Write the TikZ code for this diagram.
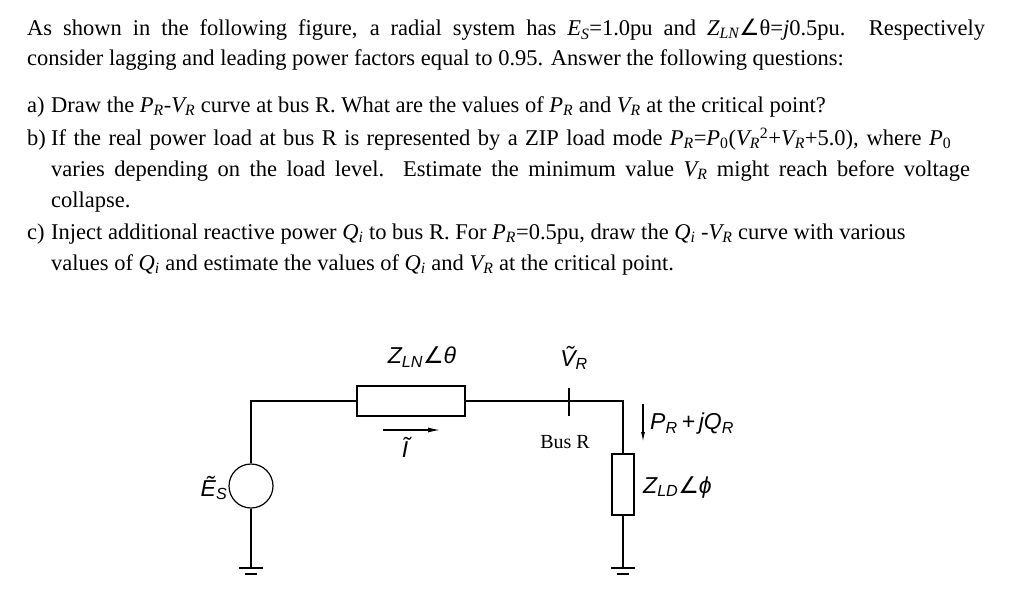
\documentclass[tikz,border=0pt]{standalone}
\usepackage{fontspec}
\setmainfont{Liberation Serif}
\newfontfamily\lsans{Liberation Sans}
\newfontfamily\djv{DejaVu Sans}
\newcommand{\angsym}{{\djv\upshape ∠}}
\usetikzlibrary{arrows.meta}
\begin{document}
\begin{tikzpicture}[x=1pt,y=-1pt,
  txt/.style={anchor=west,inner sep=0pt,font=\fontsize{22.5}{26}\selectfont},
  lab/.style={inner sep=0pt,font=\lsans\itshape\fontsize{23}{26}\selectfont},
  wire/.style={line width=1.2pt},
  box/.style={draw,line width=1.2pt,minimum width=108pt,minimum height=30pt,inner sep=0pt}]
\useasboundingbox (0,0) rectangle (1024,610);
\node[txt] (t1) at (27,30) {\makebox[958pt][s]{As shown in the following figure, a radial system has \textit{E\textsubscript{S}}=1.0pu and \textit{Z\textsubscript{LN}}\angsym θ=\textit{j}0.5pu. Respectively}};
\node[txt] (t2) at (27,60) {consider lagging and leading power factors equal to 0.95. Answer the following questions:};
\node[txt] (a) at (27,107) {\makebox[24pt][l]{a)}Draw the \textit{P\textsubscript{R}}-\textit{V\textsubscript{R}} curve at bus R. What are the values of \textit{P\textsubscript{R}} and \textit{V\textsubscript{R}} at the critical point?};
\node[txt] (b) at (27,139) {\makebox[24pt][l]{b)}\makebox[900pt][s]{If the real power load at bus R is represented by a ZIP load mode \textit{P\textsubscript{R}}=\textit{P}\textsubscript{0}(\textit{V\textsubscript{R}}\textsuperscript{2}+\textit{V\textsubscript{R}}+5.0), where \textit{P}\textsubscript{0}}};
\node[txt] (b2) at (51,171) {\makebox[919pt][s]{varies depending on the load level. Estimate the minimum value \textit{V\textsubscript{R}} might reach before voltage}};
\node[txt] (b3) at (51,202) {collapse.};
\node[txt] (c) at (27,234) {\makebox[24pt][l]{c)}Inject additional reactive power \textit{Q\textsubscript{i}} to bus R. For \textit{P\textsubscript{R}}=0.5pu, draw the \textit{Q\textsubscript{i}} -\textit{V\textsubscript{R}} curve with various};
\node[txt] (c2) at (51,265) {values of \textit{Q\textsubscript{i}} and estimate the values of \textit{Q\textsubscript{i}} and \textit{V\textsubscript{R}} at the critical point.};
% circuit
\node[draw,circle,line width=1.2pt,minimum size=44pt,inner sep=0pt] (src) at (251,486) {};
\node[box] (zln) at (411,401) {};
\node[box,minimum width=22pt,minimum height=61pt] (zld) at (623,484.5) {};
\coordinate (tl) at (251,401);
\coordinate (tr) at (623,401);
\coordinate (g1) at (251,568);
\coordinate (g2) at (623,568);
\draw[wire] (src.north) -- (tl) -- (zln.west);
\draw[wire] (zln.east) -- (tr) -- (zld.north);
\draw[wire] (src.south) -- (g1);
\draw[wire] (zld.south) -- (g2);
\foreach \g in {g1,g2}{
  \draw[line width=1.5pt] ([xshift=-12pt]\g) -- ([xshift=12pt]\g);
  \draw[line width=1.5pt] ([xshift=-6pt,yshift=-6pt]\g) -- ([xshift=6pt,yshift=-6pt]\g);}
\coordinate (bt) at (569,388); \coordinate (bb) at (569,416);
\draw[line width=2pt] (bt) -- (bb);
\coordinate (ia) at (383,430); \coordinate (ib) at (440,430);
\draw[line width=1.2pt,-{Latex[length=12pt,width=5pt]}] (ia) -- (ib);
\coordinate (pa) at (643,404); \coordinate (pb) at (643,442);
\draw[line width=1.2pt,-{Latex[length=10pt,width=4pt]}] (pa) -- (pb);
\node[lab] (lzln) at (422,357) {Z\textsubscript{LN}\angsym θ};
\node[lab] (lvr) at (574,358) {Ṽ\textsubscript{R}};
\node[lab] (li) at (405,447) {Ĩ};
\node[inner sep=0pt,font=\fontsize{20}{22}\selectfont] (lbus) at (565,442) {Bus R};
\node[lab,anchor=west] (lpq) at (650,424) {P\textsubscript{R}\,+\,jQ\textsubscript{R}};
\node[lab,anchor=west] (lzld) at (643,487) {Z\textsubscript{LD}\angsym ϕ};
\node[lab] (les) at (214,488) {Ẽ\textsubscript{S}};
\end{tikzpicture}
\end{document}
